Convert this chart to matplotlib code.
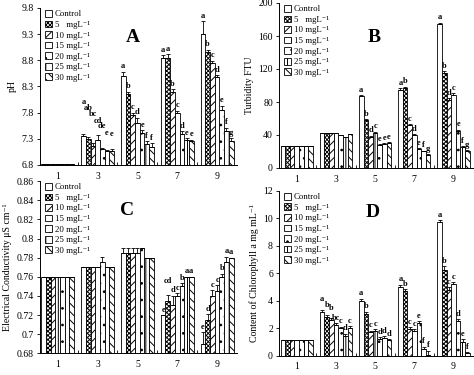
import matplotlib
matplotlib.use("Agg")
import matplotlib.pyplot as plt
from matplotlib.patches import Patch
import numpy as np

plt.rcParams['font.family'] = ['Liberation Serif', 'DejaVu Serif']
plt.rcParams['hatch.linewidth'] = 0.7

days = ["1", "3", "5", "7", "9"]
series = ["Control", "5   mgL⁻¹", "10 mgL⁻¹", "15 mgL⁻¹", "20 mgL⁻¹", "25 mgL⁻¹", "30 mgL⁻¹"]

# values: rows = series, cols = days
ph = [
    [6.81, 7.35, 8.50, 8.85, 9.30],
    [6.81, 7.30, 8.15, 8.85, 8.95],
    [6.81, 7.17, 7.75, 8.20, 8.75],
    [6.81, 7.27, 7.60, 7.80, 8.48],
    [6.81, 7.10, 7.42, 7.40, 7.85],
    [6.81, 7.06, 7.20, 7.28, 7.45],
    [6.81, 7.07, 7.15, 7.25, 7.26],
]
ph_err = [
    [0.0, 0.05, 0.08, 0.05, 0.25],
    [0.0, 0.03, 0.05, 0.06, 0.05],
    [0.0, 0.05, 0.05, 0.05, 0.04],
    [0.0, 0.10, 0.10, 0.04, 0.04],
    [0.0, 0.03, 0.04, 0.05, 0.08],
    [0.0, 0.03, 0.05, 0.03, 0.06],
    [0.0, 0.04, 0.07, 0.03, 0.05],
]
ph_letters = [
    ["", "a", "a", "a", "a"],
    ["", "ab", "b", "a", "b"],
    ["", "bc", "c", "b", "c"],
    ["", "cd", "d", "c", "d"],
    ["", "de", "e", "d", "e"],
    ["", "e", "f", "e", "f"],
    ["", "e", "f", "e", "g"],
]

turb = [
    [27, 42, 87, 95, 175],
    [27, 42, 58, 97, 115],
    [27, 42, 38, 52, 83],
    [27, 42, 43, 40, 89],
    [27, 40, 28, 23, 45],
    [27, 37, 29, 20, 25],
    [27, 41, 30, 16, 20],
]
turb_err = [
    [0, 0, 1.5, 1.5, 1.0],
    [0, 0, 1.0, 1.5, 2.0],
    [0, 0, 1.0, 1.0, 1.5],
    [0, 0, 1.0, 1.0, 1.5],
    [0, 0, 1.0, 1.0, 1.5],
    [0, 0, 1.0, 1.0, 1.5],
    [0, 0, 1.0, 1.0, 1.5],
]
turb_letters = [
    ["", "", "a", "a", "a"],
    ["", "", "b", "b", "b"],
    ["", "", "d", "c", "d"],
    ["", "", "c", "d", "c"],
    ["", "", "e", "e", "e"],
    ["", "", "e", "f", "f"],
    ["", "", "e", "g", "g"],
]

ec = [
    [0.760, 0.770, 0.785, 0.720, 0.690],
    [0.760, 0.770, 0.785, 0.735, 0.715],
    [0.760, 0.770, 0.785, 0.730, 0.740],
    [0.760, 0.770, 0.785, 0.740, 0.745],
    [0.760, 0.775, 0.790, 0.750, 0.760],
    [0.760, 0.770, 0.780, 0.760, 0.775],
    [0.760, 0.770, 0.780, 0.760, 0.780],
]
ec_err = [
    [0, 0, 0.005, 0.0, 0.012],
    [0, 0, 0.005, 0.006, 0.006],
    [0, 0, 0.005, 0.010, 0.006],
    [0, 0, 0.005, 0.003, 0.006],
    [0, 0.006, 0.0, 0.003, 0.003],
    [0, 0, 0.0, 0.0, 0.006],
    [0, 0, 0.0, 0.0, 0.0],
]
ec_letters = [
    ["", "", "", "e", "e"],
    ["", "", "", "cd", "d"],
    ["", "", "", "d", "c"],
    ["", "", "", "c", "c"],
    ["", "", "", "b", "b"],
    ["", "", "", "a", "a"],
    ["", "", "", "a", "a"],
]

chl = [
    [1.1, 3.2, 4.0, 5.0, 9.7],
    [1.1, 2.8, 3.0, 4.7, 6.2],
    [1.1, 2.6, 1.7, 1.9, 4.8],
    [1.1, 2.2, 1.8, 1.8, 5.2],
    [1.1, 2.0, 1.2, 2.4, 2.5],
    [1.1, 1.4, 1.3, 0.5, 1.0],
    [1.1, 2.0, 1.1, 0.05, 0.15],
]
chl_err = [
    [0, 0.10, 0.15, 0.15, 0.15],
    [0, 0.15, 0.20, 0.15, 0.30],
    [0, 0.15, 0.10, 0.15, 0.20],
    [0, 0.15, 0.10, 0.10, 0.15],
    [0, 0.10, 0.15, 0.10, 0.15],
    [0, 0.20, 0.10, 0.15, 0.20],
    [0, 0.15, 0.10, 0.30, 0.10],
]
chl_letters = [
    ["", "a", "a", "a", "a"],
    ["", "b", "b", "b", "b"],
    ["", "b", "c", "c", "c"],
    ["", "bc", "c", "c", "c"],
    ["", "c", "d", "e", "d"],
    ["", "d", "d", "f", "e"],
    ["", "c", "d", "f", "f"],
]

hatches = ["", "xxxxxxxx", "////", "|", "..", "||", "\\\\\\\\"]

fig = plt.figure(figsize=(4.74, 3.75), dpi=100)

def panel(rect, vals, errs, letters, ylim, yticks, yticklabels, ylabel, tag, tagpos,
          lift=None):
    lift = lift or {}
    ax = fig.add_axes(rect)
    n = len(vals)
    w = 0.118
    x = np.arange(len(days))
    for i in range(n):
        xi = x + (i - (n - 1) / 2) * w
        bottom = ylim[0]
        heights = np.array(vals[i]) - bottom
        ax.bar(xi, heights, w, bottom=bottom, color="white", edgecolor="black",
               linewidth=0.6, hatch=hatches[i], zorder=2)
        ax.errorbar(xi, vals[i], yerr=[np.zeros(len(days)), errs[i]], fmt="none",
                    ecolor="black", elinewidth=0.6, capsize=1.5, capthick=0.6, zorder=3)
        for j in range(len(days)):
            if letters[i][j]:
                ax.annotate(letters[i][j], (xi[j], vals[i][j] + errs[i][j]),
                            xytext=(0, 1 + lift.get((i, j), 0)), textcoords="offset points",
                            ha="center", va="bottom", fontsize=6, fontweight="bold",
                            zorder=4)
    ax.set_xlim(-0.45, 4.5)
    ax.set_ylim(ylim)
    ax.set_yticks(yticks)
    ax.set_yticklabels(yticklabels, fontsize=7)
    ax.set_xticks(x)
    ax.set_xticklabels(days, fontsize=7)
    ax.set_xticks(np.arange(len(days) - 1) + 0.5, minor=True)
    ax.tick_params(axis="x", which="major", length=0, pad=5)
    ax.tick_params(axis="x", which="minor", length=2, direction="in", width=0.6)
    ax.tick_params(axis="y", length=2.5, width=0.6, pad=2)
    for s in ["top", "right"]:
        ax.spines[s].set_visible(False)
    for s in ["left", "bottom"]:
        ax.spines[s].set_linewidth(0.7)
    ax.set_ylabel(ylabel, fontsize=7, labelpad=3)
    handles = [Patch(facecolor="white", edgecolor="black", hatch=hatches[i], linewidth=0.6)
               for i in range(n)]
    ax.legend(handles, series, loc="upper left", bbox_to_anchor=(0.0, 1.02),
              frameon=False, fontsize=6.3, handlelength=0.8, handleheight=0.8,
              handletextpad=0.3, labelspacing=0.25, borderaxespad=0.2)
    ax.text(tagpos[0], tagpos[1], tag, transform=ax.transAxes, fontsize=14,
            fontweight="bold", ha="center", va="center")
    return ax

panel([0.084, 0.56, 0.416, 0.419], ph, ph_err, ph_letters, (6.8, 9.8),
      [6.8, 7.3, 7.8, 8.3, 8.8, 9.3, 9.8],
      ["6.8", "7.3", "7.8", "8.3", "8.8", "9.3", "9.8"],
      "pH", "A", (0.47, 0.81),
      lift={(0, 1): 19, (1, 1): 17, (2, 1): 17, (3, 1): 6, (4, 1): 12, (5, 1): 8, (6, 1): 7})

panel([0.589, 0.552, 0.409, 0.44], turb, turb_err, turb_letters, (0, 200),
      [0, 40, 80, 120, 160, 200],
      ["0", "40", "80", "120", "160", "200"],
      "Turbidity FTU", "B", (0.49, 0.79))

panel([0.084, 0.058, 0.416, 0.459], ec, ec_err, ec_letters, (0.68, 0.86),
      [0.68, 0.70, 0.72, 0.74, 0.76, 0.78, 0.80, 0.82, 0.84, 0.86],
      ["0.68", "0.7", "0.72", "0.74", "0.76", "0.78", "0.8", "0.82", "0.84", "0.86"],
      "Electrical Conductivity μS cm⁻¹", "C", (0.44, 0.83),
      lift={(1, 3): 6})

panel([0.589, 0.052, 0.409, 0.439], chl, chl_err, chl_letters, (0, 12),
      [0, 2, 4, 6, 8, 10, 12],
      ["0", "2", "4", "6", "8", "10", "12"],
      "Content of Chlorophyll a mg mL⁻¹", "D", (0.48, 0.87),
      lift={(0, 1): 4, (1, 1): 3, (2, 1): 3})

fig.savefig("out.png", dpi=100)
